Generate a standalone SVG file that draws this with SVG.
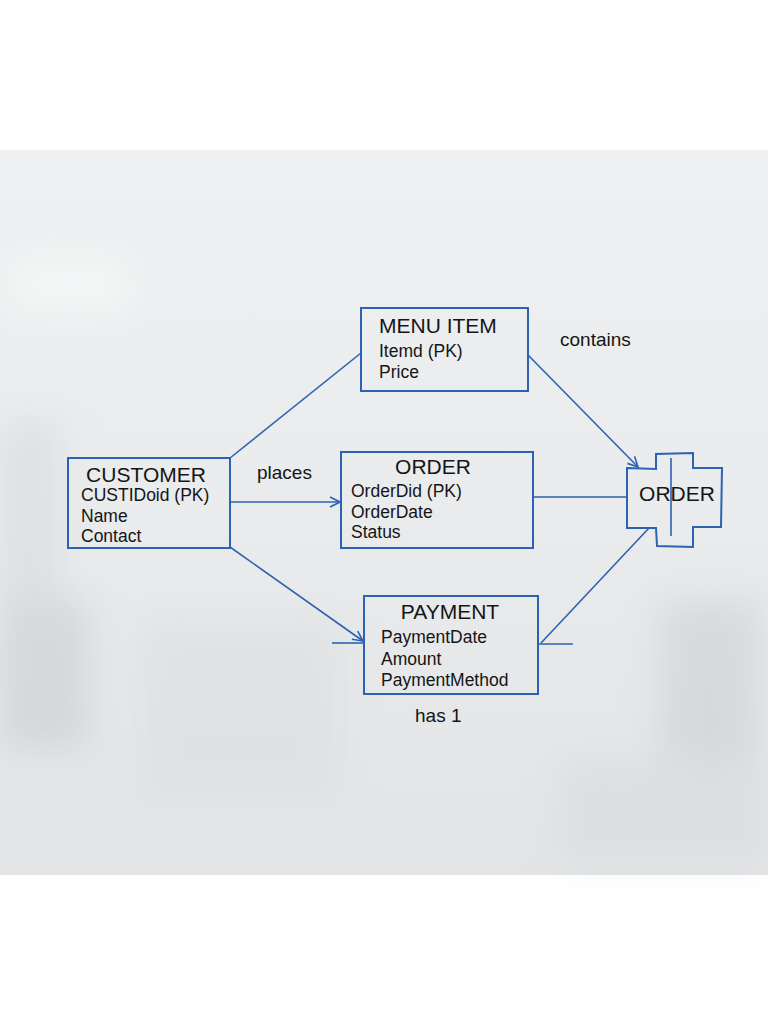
<svg xmlns="http://www.w3.org/2000/svg" width="768" height="1024" viewBox="0 0 768 1024">
<defs>
<style>
.box{fill:none;stroke:#2d62b3;stroke-width:2}
.ln{fill:none;stroke:#2d62b3;stroke-width:1.6}
.t{font-family:"Liberation Sans",Arial,sans-serif;font-size:21px;fill:#151515}
.f{font-family:"Liberation Sans",Arial,sans-serif;font-size:17.5px;fill:#151515}
.l{font-family:"Liberation Sans",Arial,sans-serif;font-size:19px;fill:#151515}
</style>
<linearGradient id="bg" x1="0" y1="0" x2="0" y2="1">
<stop offset="0" stop-color="#eef0f1"/>
<stop offset="0.5" stop-color="#e9ebec"/>
<stop offset="1" stop-color="#e2e4e6"/>
</linearGradient>
<filter id="blur" x="-50%" y="-50%" width="200%" height="200%"><feGaussianBlur stdDeviation="18"/></filter>
<marker id="arr" viewBox="0 0 12 12" refX="11" refY="6" markerWidth="12" markerHeight="12" markerUnits="userSpaceOnUse" orient="auto">
<path d="M1,1 L11,6 L1,11" fill="none" stroke="#2d62b3" stroke-width="1.6"/>
</marker>
</defs>
<rect width="768" height="1024" fill="#ffffff"/>
<g id="background">
<rect x="0" y="150" width="768" height="725" fill="url(#bg)"/>
<g filter="url(#blur)" opacity="0.5">
<rect x="10" y="260" width="120" height="50" fill="#ffffff"/>
<rect x="0" y="420" width="60" height="330" fill="#d4d6d8"/>
<rect x="0" y="600" width="90" height="150" fill="#c6c8ca"/>
<rect x="140" y="620" width="200" height="180" fill="#dadcdd"/>
<rect x="660" y="600" width="100" height="160" fill="#c9cbcd"/>
<rect x="560" y="760" width="208" height="100" fill="#d6d8da"/>
</g>
</g>
<g id="connectors">
<line class="ln" x1="230" y1="458" x2="361" y2="353"/>
<line class="ln" x1="230" y1="502" x2="340" y2="502" marker-end="url(#arr)"/>
<line class="ln" x1="230" y1="547" x2="363" y2="641" marker-end="url(#arr)"/>
<line class="ln" x1="332" y1="643" x2="364" y2="643"/>
<line class="ln" x1="528" y1="355" x2="638" y2="467" marker-end="url(#arr)"/>
<line class="ln" x1="533" y1="497" x2="627" y2="497"/>
<line class="ln" x1="649" y1="528" x2="541" y2="643"/>
<line class="ln" x1="538" y1="644" x2="573" y2="644"/>
</g>
<g id="customer">
<rect class="box" x="68" y="458" width="162" height="90"/>
<text class="t" x="146" y="482" text-anchor="middle">CUSTOMER</text>
<text class="f" x="81" y="501">CUSTIDoid (PK)</text>
<text class="f" x="81" y="522">Name</text>
<text class="f" x="81" y="542">Contact</text>
</g>
<g id="menu-item">
<rect class="box" x="361" y="308" width="167" height="83"/>
<text class="t" x="379" y="333">MENU ITEM</text>
<text class="f" x="379" y="357">Itemd (PK)</text>
<text class="f" x="379" y="378">Price</text>
</g>
<g id="order">
<rect class="box" x="341" y="452" width="192" height="96"/>
<text class="t" x="433" y="474" text-anchor="middle">ORDER</text>
<text class="f" x="351" y="497">OrderDid (PK)</text>
<text class="f" x="351" y="518">OrderDate</text>
<text class="f" x="351" y="538">Status</text>
</g>
<g id="payment">
<rect class="box" x="364" y="596" width="174" height="98"/>
<text class="t" x="450" y="619" text-anchor="middle">PAYMENT</text>
<text class="f" x="381" y="643">PaymentDate</text>
<text class="f" x="381" y="665">Amount</text>
<text class="f" x="381" y="686">PaymentMethod</text>
</g>
<g id="order-cross">
<path class="box" d="M627,468 L656,469 L656,454 L693,453 L693,468 L722,468 L721,527 L693,527 L693,547 L657,546 L656,528 L627,528 Z"/>
<line class="ln" x1="671" y1="458" x2="671" y2="536"/>
<text class="t" x="677" y="501" text-anchor="middle" font-size="18.5">ORDER</text>
</g>
<g id="labels">
<text class="l" x="257" y="479">places</text>
<text class="l" x="560" y="346">contains</text>
<text class="l" x="415" y="722">has 1</text>
</g>
</svg>
